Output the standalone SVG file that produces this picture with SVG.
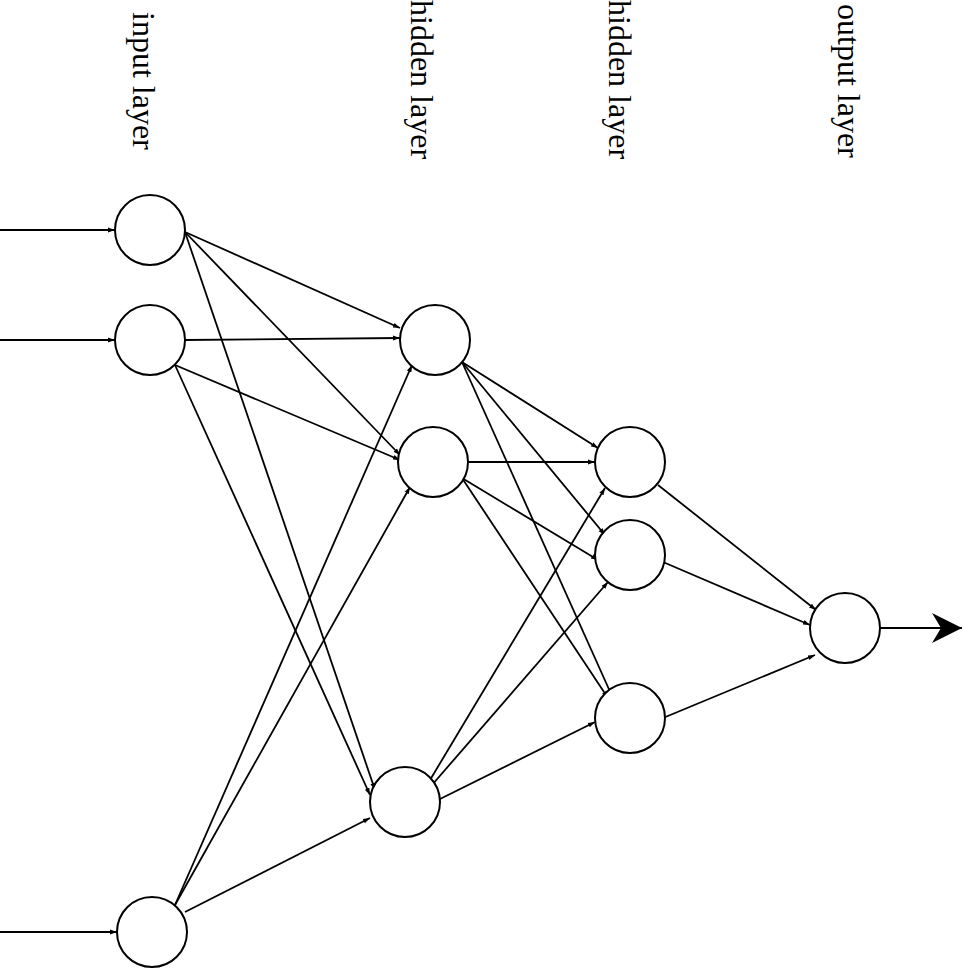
<svg xmlns="http://www.w3.org/2000/svg" width="968" height="971" viewBox="0 0 968 971">
<style>
.n{fill:#fff;stroke:#000;stroke-width:2}
.e{stroke:#000;stroke-width:1.8;fill:none;marker-end:url(#a)}
.t{font-family:"Liberation Serif",serif;font-size:32px;fill:#000}
</style>
<defs>
<marker id="a" viewBox="0 0 10 10" refX="10" refY="5" markerWidth="7" markerHeight="7" markerUnits="userSpaceOnUse" orient="auto"><path d="M0,1.5 L10,5 L0,8.5 Z"/></marker>
<marker id="b" viewBox="0 0 10 10" refX="10" refY="5" markerWidth="30" markerHeight="30" markerUnits="userSpaceOnUse" orient="auto"><path d="M0,0 L10,5 L0,10 L3,5 Z"/></marker>
</defs>
<rect width="968" height="971" fill="#fff"/>
<g id="labels">
<text class="t" transform="translate(133,12) rotate(90)">input layer</text>
<text class="t" transform="translate(411,0) rotate(90)">hidden layer</text>
<text class="t" transform="translate(609,0) rotate(90)">hidden layer</text>
<text class="t" transform="translate(838,4) rotate(90)">output layer</text>
</g>
<g id="connectors">
<line class="e" x1="0" y1="230" x2="115" y2="230"/>
<line class="e" x1="0" y1="340" x2="115" y2="340"/>
<line class="e" x1="0" y1="932" x2="117" y2="932"/>
<line class="e" x1="185" y1="232" x2="400" y2="328"/>
<line class="e" x1="185" y1="232" x2="400" y2="455"/>
<line class="e" x1="185" y1="232" x2="375" y2="790"/>
<line class="e" x1="185" y1="340" x2="400" y2="338"/>
<line class="e" x1="175" y1="365" x2="400" y2="460"/>
<line class="e" x1="175" y1="365" x2="370" y2="795"/>
<line class="e" x1="175" y1="905" x2="412" y2="365"/>
<line class="e" x1="175" y1="905" x2="410" y2="487"/>
<line class="e" x1="185" y1="912" x2="370" y2="818"/>
<line class="e" x1="462" y1="362" x2="598" y2="448"/>
<line class="e" x1="462" y1="362" x2="605" y2="535"/>
<line class="e" x1="462" y1="362" x2="612" y2="696"/>
<line class="e" x1="468" y1="462" x2="595" y2="462"/>
<line class="e" x1="462" y1="478" x2="598" y2="560"/>
<line class="e" x1="462" y1="478" x2="608" y2="698"/>
<line class="e" x1="430" y1="780" x2="605" y2="488"/>
<line class="e" x1="432" y1="785" x2="608" y2="582"/>
<line class="e" x1="438" y1="800" x2="595" y2="722"/>
<line class="e" x1="658" y1="485" x2="816" y2="610"/>
<line class="e" x1="663" y1="562" x2="810" y2="625"/>
<line class="e" x1="663" y1="718" x2="815" y2="655"/>
<line x1="880" y1="628" x2="962" y2="628" stroke="#000" stroke-width="1.8" marker-end="url(#b)"/>
</g>
<g id="n1"><circle class="n" cx="150" cy="230" r="35"/></g>
<g id="n2"><circle class="n" cx="150" cy="340" r="35"/></g>
<g id="n3"><circle class="n" cx="152" cy="932" r="35"/></g>
<g id="h1"><circle class="n" cx="435" cy="340" r="35"/></g>
<g id="h2"><circle class="n" cx="433" cy="462" r="35"/></g>
<g id="h3"><circle class="n" cx="405" cy="802" r="35"/></g>
<g id="g1"><circle class="n" cx="630" cy="462" r="35"/></g>
<g id="g2"><circle class="n" cx="630" cy="555" r="35"/></g>
<g id="g3"><circle class="n" cx="630" cy="718" r="35"/></g>
<g id="out"><circle class="n" cx="845" cy="628" r="35"/></g>
</svg>
